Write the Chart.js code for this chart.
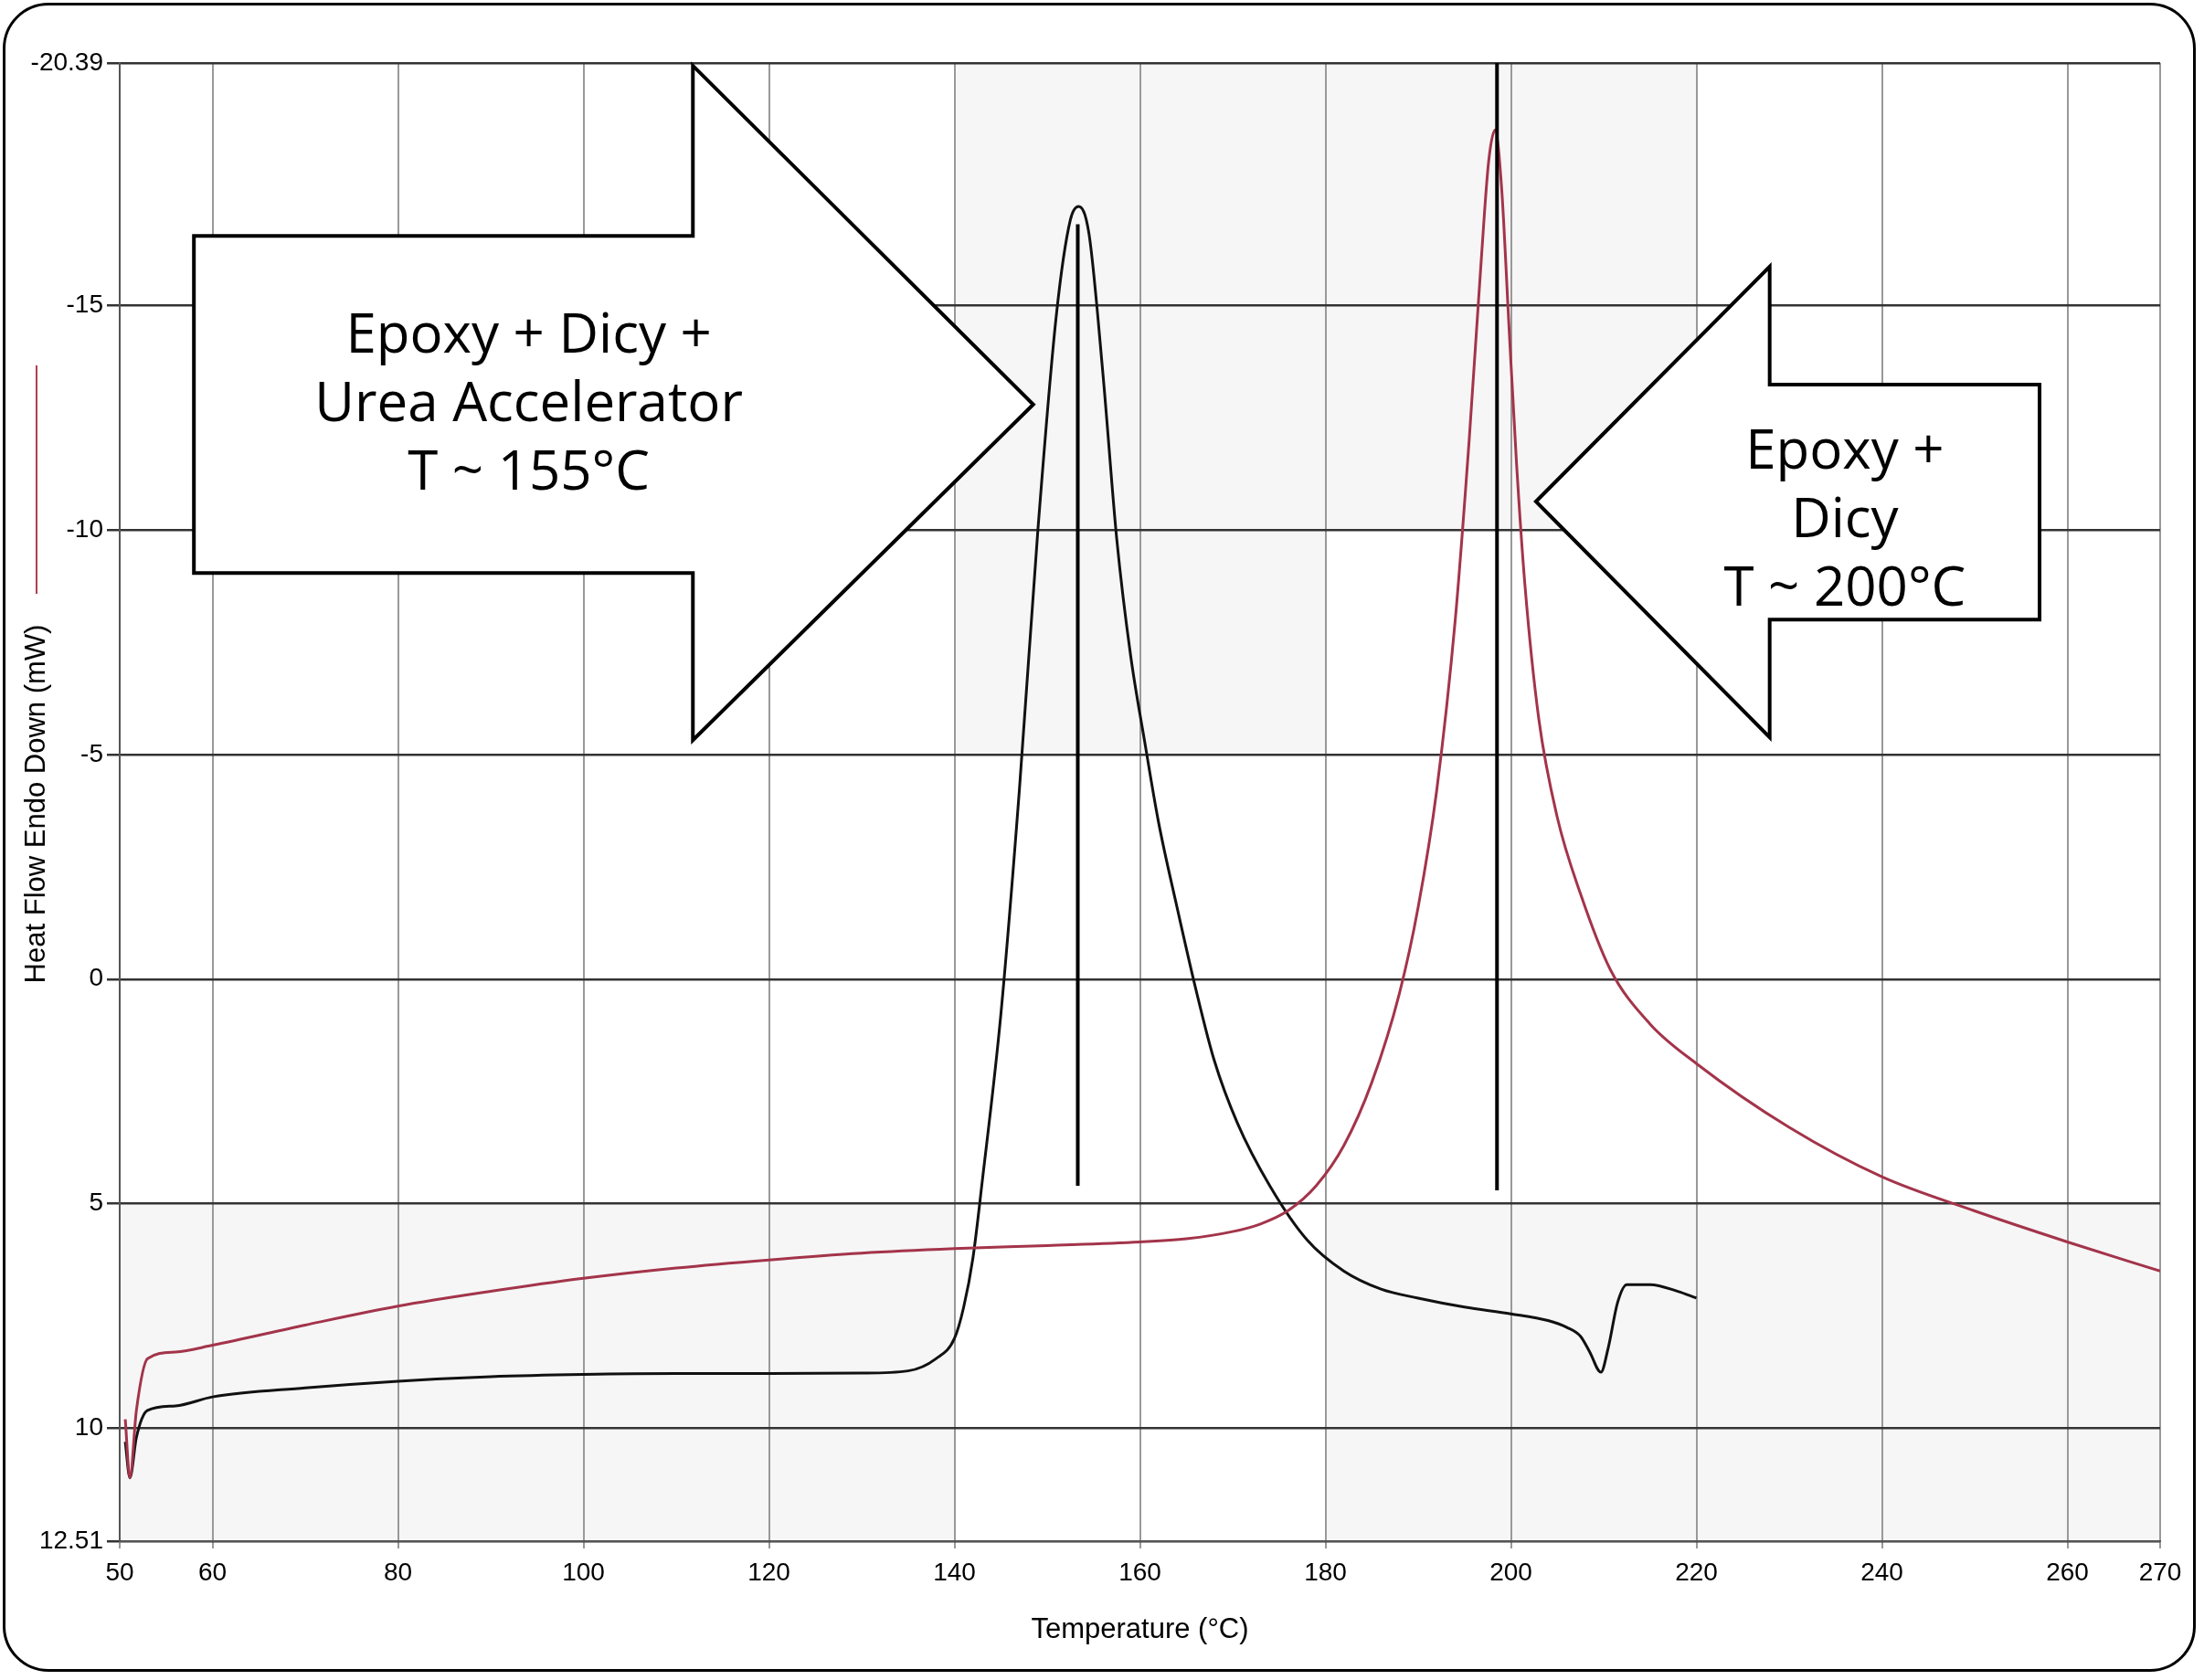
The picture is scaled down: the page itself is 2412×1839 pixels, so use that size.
<!DOCTYPE html>
<html><head><meta charset="utf-8">
<script src="https://cdn.jsdelivr.net/npm/chart.js@4/dist/chart.umd.min.js"></script>
<style>html,body{margin:0;background:#fff}#wrap{position:absolute;left:0;top:0;width:2412px;height:1839px}
#frame{position:absolute;left:3px;top:3px;width:2400px;height:1827px;border:3px solid #000;border-radius:50px;box-sizing:border-box;pointer-events:none}</style>
</head><body><div id="wrap"><canvas id="c" width="2412" height="1839"></canvas><div id="frame"></div></div>
<script>
const xTicks=[50,60,80,100,120,140,160,180,200,220,240,260,270];
const yTicks=[-20.39,-15,-10,-5,0,5,10,12.51];
const blackX=[50.6,51.1,51.8,53,56,60,70,80,90,100,110,120,130,135,138,140,141,142,143,145,147,149,151,152.5,153.4,154.5,156,157.5,159,160.5,162,164,166,168,170.5,174,178,182,186,190,195,200,204,206,207.5,208.5,209.7,210.5,211.5,212.5,215,218,220];
const blackY=[10.3,11.1,10.2,9.6,9.5,9.3,9.1,8.95,8.85,8.8,8.78,8.78,8.77,8.72,8.45,8.0,7.3,6.2,4.5,0.8,-4.2,-10,-14.8,-16.9,-17.2,-16.6,-13.5,-9.8,-7.2,-5.3,-3.5,-1.6,0.2,1.8,3.2,4.6,5.8,6.5,6.9,7.1,7.3,7.45,7.6,7.75,7.95,8.3,8.75,8.2,7.2,6.8,6.8,6.95,7.1];
const redX=[50.6,51.1,51.8,53,56,60,70,80,90,100,110,120,130,140,150,160,165,170,173,176,179,182,185,188,190,192,194,195.5,196.8,197.6,198.3,199,199.8,200.6,201.5,203,205,207.5,210.7,215,220,230,240,250,260,270];
const redY=[9.8,11.1,9.6,8.45,8.3,8.15,7.7,7.28,6.95,6.66,6.43,6.25,6.1,6.0,5.93,5.85,5.78,5.62,5.45,5.15,4.6,3.7,2.3,0.3,-1.6,-4.2,-8,-12,-16,-18.2,-18.9,-17.6,-14.5,-11.5,-8.8,-5.8,-3.6,-1.9,-0.22,1.0,1.88,3.3,4.4,5.16,5.85,6.5];
const arrowL=[[58.0,-16.54],[111.8,-16.54],[111.8,-20.33],[148.5,-12.79],[111.8,-5.32],[111.8,-9.04],[58.0,-9.04]];
const arrowR=[[202.7,-10.63],[227.9,-15.86],[227.9,-13.23],[257.0,-13.23],[257.0,-8.0],[227.9,-8.0],[227.9,-5.38]];
const textL=["Epoxy + Dicy +","Urea Accelerator","T ~ 155°C"];
const textR=["Epoxy +","Dicy","T ~ 200°C"];
const markers=[[153.3,-16.8,4.6],[198.5,-20.39,4.7]];
const pts=(xs,ys)=>xs.map((x,i)=>({x,y:ys[i]}));
const deco={id:'deco',
 beforeDraw(ch){const c=ch.ctx,xs=ch.scales.x,ys=ch.scales.y;
  c.save();c.fillStyle='#f6f6f6';
  [[140,180,-20.39,-5],[180,220,-20.39,-10],[180,270,5,12.51],[50,140,5,12.51]].forEach(r=>{const x1=xs.getPixelForValue(r[0]),x2=xs.getPixelForValue(r[1]),y1=ys.getPixelForValue(r[2]),y2=ys.getPixelForValue(r[3]);c.fillRect(x1,y1,x2-x1,y2-y1);});
  c.restore();},
 afterDatasetsDraw(ch){const c=ch.ctx,xs=ch.scales.x,ys=ch.scales.y;
  c.save();c.strokeStyle='#000';c.lineWidth=4;
  markers.forEach(m=>{c.beginPath();c.moveTo(xs.getPixelForValue(m[0]),ys.getPixelForValue(m[1]));c.lineTo(xs.getPixelForValue(m[0]),ys.getPixelForValue(m[2]));c.stroke();});
  [arrowL,arrowR].forEach(p=>{c.beginPath();p.forEach((q,i)=>{const X=xs.getPixelForValue(q[0]),Y=ys.getPixelForValue(q[1]);i?c.lineTo(X,Y):c.moveTo(X,Y);});c.closePath();c.fillStyle='#fff';c.fill();c.lineWidth=4;c.stroke();});
  c.fillStyle='#000';c.font='60px "Open Sans"';c.textAlign='center';c.textBaseline='middle';
  textL.forEach((t,i)=>c.fillText(t,xs.getPixelForValue(94.1),ys.getPixelForValue(-14.3)+i*75));
  textR.forEach((t,i)=>c.fillText(t,xs.getPixelForValue(236),ys.getPixelForValue(-11.7)+i*75));
  c.font='31px "Liberation Sans Narrow", "Liberation Sans", Arial';
  c.fillText('Temperature (°C)',xs.getPixelForValue(160),1784);
  c.translate(40,880);c.rotate(-Math.PI/2);c.fillText('Heat Flow Endo Down (mW)',0,0);
  c.strokeStyle='#b04050';c.lineWidth=2;c.beginPath();c.moveTo(230,0);c.lineTo(480,0);c.stroke();
  c.restore();}};
new Chart(document.getElementById('c'),{type:'scatter',
 data:{datasets:[
  {data:pts(redX,redY),showLine:true,borderColor:'#a3344a',borderWidth:3,pointRadius:0,cubicInterpolationMode:'monotone'},
  {data:pts(blackX,blackY),showLine:true,borderColor:'#111',borderWidth:3,pointRadius:0,cubicInterpolationMode:'monotone'}]},
 options:{responsive:false,animation:false,layout:{padding:{left:0,right:48,top:69,bottom:0}},
  plugins:{legend:{display:false},tooltip:{enabled:false}},
  scales:{
   x:{type:'linear',min:50,max:270,afterBuildTicks:s=>{s.ticks=xTicks.map(v=>({value:v}));},
    afterFit:s=>{s.height=152;},
    grid:{color:'#999',lineWidth:2,drawTicks:true,tickLength:8},border:{color:'#555',width:2},
    ticks:{color:'#000',font:{size:28,family:'"Liberation Sans Narrow", "Liberation Sans", Arial'},maxRotation:0,padding:10}},
   y:{type:'linear',reverse:true,min:-20.39,max:12.51,afterBuildTicks:s=>{s.ticks=yTicks.map(v=>({value:v}));},
    afterFit:s=>{s.width=131;},
    grid:{color:'#333',lineWidth:2.5,tickLength:14},border:{color:'#555',width:2},
    ticks:{color:'#000',font:{size:28,family:'"Liberation Sans Narrow", "Liberation Sans", Arial'},padding:4,callback:v=>String(v)}}}},
 plugins:[deco]});
</script></body></html>
